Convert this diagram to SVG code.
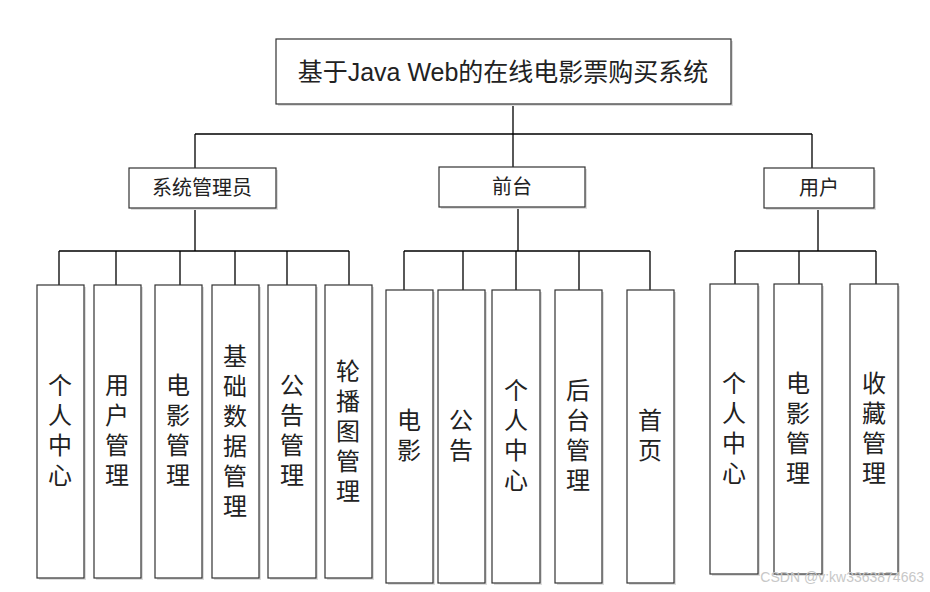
<svg xmlns="http://www.w3.org/2000/svg" width="930" height="592" viewBox="0 0 930 592">
<style>
.b{fill:#fff;stroke:#333;stroke-width:1.2}
.s{fill:#ddd}
.t{font-family:"Liberation Sans","Noto Sans CJK SC",sans-serif;fill:#222;text-anchor:middle}
.c{fill:none;stroke:#000;stroke-width:1.3}
</style>
<rect width="930" height="592" fill="#fff"/>
<g id="conn" class="c">
<path d="M513 104V134M195 134H812M195 134V168M513 134V168M812 134V168"/>
<path d="M195 208V251M59 251H349M59 251V285M116 251V285M180 251V285M235 251V285M287 251V285M349 251V285"/>
<path d="M518 207V251M404 251H650M404 251V290M463 251V290M516 251V290M579 251V290M650 251V290"/>
<path d="M818 208V251M735 251H876M735 251V284M799 251V284M876 251V284"/>
</g>
<g id="root"><rect class="s" x="278" y="41" width="455" height="65"/><rect class="b" x="276" y="39" width="455" height="65"/><text class="t" x="503" y="81" font-size="25">基于Java Web的在线电影票购买系统</text></g>
<g id="admin"><rect class="s" x="131" y="170" width="147" height="40"/><rect class="b" x="129" y="168" width="147" height="40"/><text class="t" x="202" y="195" font-size="20">系统管理员</text></g>
<g id="front"><rect class="s" x="441" y="169" width="146" height="40"/><rect class="b" x="439" y="167" width="146" height="40"/><text class="t" x="512" y="194" font-size="20">前台</text></g>
<g id="user"><rect class="s" x="766" y="170" width="110" height="40"/><rect class="b" x="764" y="168" width="110" height="40"/><text class="t" x="819" y="195" font-size="20">用户</text></g>
<g id="a1"><rect class="s" x="39" y="287" width="47" height="293"/><rect class="b" x="37" y="285" width="47" height="293"/><text class="t" font-size="24"><tspan x="60" y="394">个</tspan><tspan x="60" y="424">人</tspan><tspan x="60" y="454">中</tspan><tspan x="60" y="484">心</tspan></text></g>
<g id="a2"><rect class="s" x="96" y="287" width="47" height="293"/><rect class="b" x="94" y="285" width="47" height="293"/><text class="t" font-size="24"><tspan x="117" y="394">用</tspan><tspan x="117" y="424">户</tspan><tspan x="117" y="454">管</tspan><tspan x="117" y="484">理</tspan></text></g>
<g id="a3"><rect class="s" x="157" y="287" width="47" height="293"/><rect class="b" x="155" y="285" width="47" height="293"/><text class="t" font-size="24"><tspan x="178" y="394">电</tspan><tspan x="178" y="424">影</tspan><tspan x="178" y="454">管</tspan><tspan x="178" y="484">理</tspan></text></g>
<g id="a4"><rect class="s" x="214" y="287" width="47" height="293"/><rect class="b" x="212" y="285" width="47" height="293"/><text class="t" font-size="24"><tspan x="235" y="365">基</tspan><tspan x="235" y="395">础</tspan><tspan x="235" y="425">数</tspan><tspan x="235" y="455">据</tspan><tspan x="235" y="485">管</tspan><tspan x="235" y="515">理</tspan></text></g>
<g id="a5"><rect class="s" x="270" y="287" width="48" height="293"/><rect class="b" x="268" y="285" width="48" height="293"/><text class="t" font-size="24"><tspan x="292" y="394">公</tspan><tspan x="292" y="424">告</tspan><tspan x="292" y="454">管</tspan><tspan x="292" y="484">理</tspan></text></g>
<g id="a6"><rect class="s" x="327" y="287" width="47" height="293"/><rect class="b" x="325" y="285" width="47" height="293"/><text class="t" font-size="24"><tspan x="348" y="380">轮</tspan><tspan x="348" y="410">播</tspan><tspan x="348" y="440">图</tspan><tspan x="348" y="470">管</tspan><tspan x="348" y="500">理</tspan></text></g>
<g id="f1"><rect class="s" x="388" y="292" width="47" height="293"/><rect class="b" x="386" y="290" width="47" height="293"/><text class="t" font-size="24"><tspan x="409" y="429">电</tspan><tspan x="409" y="459">影</tspan></text></g>
<g id="f2"><rect class="s" x="440" y="292" width="47" height="293"/><rect class="b" x="438" y="290" width="47" height="293"/><text class="t" font-size="24"><tspan x="461" y="429">公</tspan><tspan x="461" y="459">告</tspan></text></g>
<g id="f3"><rect class="s" x="494" y="292" width="48" height="293"/><rect class="b" x="492" y="290" width="48" height="293"/><text class="t" font-size="24"><tspan x="516" y="399">个</tspan><tspan x="516" y="429">人</tspan><tspan x="516" y="459">中</tspan><tspan x="516" y="489">心</tspan></text></g>
<g id="f4"><rect class="s" x="557" y="292" width="47" height="293"/><rect class="b" x="555" y="290" width="47" height="293"/><text class="t" font-size="24"><tspan x="578" y="399">后</tspan><tspan x="578" y="429">台</tspan><tspan x="578" y="459">管</tspan><tspan x="578" y="489">理</tspan></text></g>
<g id="f5"><rect class="s" x="629" y="292" width="47" height="293"/><rect class="b" x="627" y="290" width="47" height="293"/><text class="t" font-size="24"><tspan x="650" y="429">首</tspan><tspan x="650" y="459">页</tspan></text></g>
<g id="u1"><rect class="s" x="712" y="286" width="48" height="290"/><rect class="b" x="710" y="284" width="48" height="290"/><text class="t" font-size="24"><tspan x="734" y="392">个</tspan><tspan x="734" y="422">人</tspan><tspan x="734" y="452">中</tspan><tspan x="734" y="482">心</tspan></text></g>
<g id="u2"><rect class="s" x="776" y="286" width="48" height="290"/><rect class="b" x="774" y="284" width="48" height="290"/><text class="t" font-size="24"><tspan x="798" y="392">电</tspan><tspan x="798" y="422">影</tspan><tspan x="798" y="452">管</tspan><tspan x="798" y="482">理</tspan></text></g>
<g id="u3"><rect class="s" x="852" y="286" width="48" height="290"/><rect class="b" x="850" y="284" width="48" height="290"/><text class="t" font-size="24"><tspan x="874" y="392">收</tspan><tspan x="874" y="422">藏</tspan><tspan x="874" y="452">管</tspan><tspan x="874" y="482">理</tspan></text></g>
<text x="924" y="582" font-family="Liberation Sans,sans-serif" font-size="14" fill="#c8c8c8" text-anchor="end">CSDN @v:kw3363874663</text>
</svg>
